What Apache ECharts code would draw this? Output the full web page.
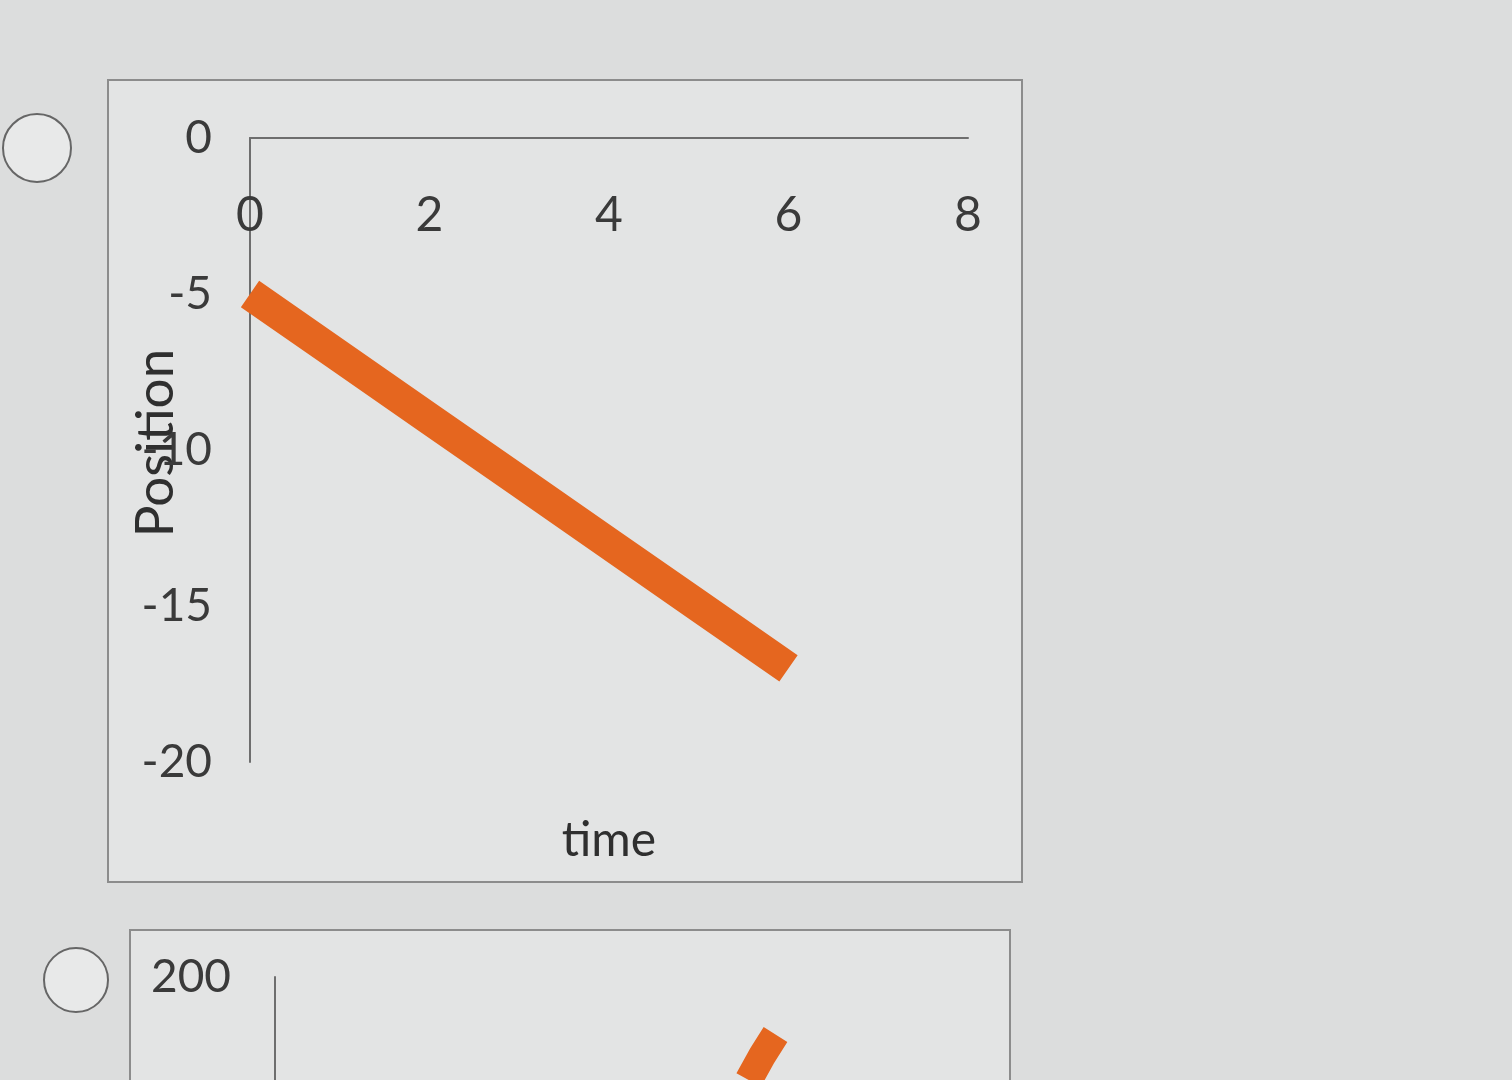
<!DOCTYPE html>
<html><head><meta charset="utf-8">
<script src="https://cdn.jsdelivr.net/npm/echarts@6/dist/echarts.min.js"></script>
<style>html,body{margin:0;padding:0;background:#dcdddd;}#c{width:1512px;height:1080px;}</style>
</head><body><div id="c"></div>
<script>
// Chart 1: Position vs time
const timeValues = [0, 1, 2, 3, 4, 5, 6];
const positionValues = [-5, -7, -9, -11, -13, -15, -17];
const xTicks = [0, 2, 4, 6, 8];
const yTicks = [0, -5, -10, -15, -20];
// Chart 2 (only its top is visible below)
const time2Values = [5.3, 5.45, 5.6];
const position2Values = [166, 174, 181];
const y2Ticks = [200];

const FONT = 'Lato';
const TXT = '#3a3a3a';
const chart = echarts.init(document.getElementById('c'), null, {renderer: 'canvas'});
chart.setOption({
  backgroundColor: '#dcdddd',
  animation: false,
  graphic: [
    {type: 'rect', shape: {x: 108, y: 80, width: 914, height: 802}, style: {fill: '#e3e4e4', stroke: '#8c8c8c', lineWidth: 2}, z: -10},
    {type: 'rect', shape: {x: 130, y: 930, width: 880, height: 200}, style: {fill: '#e3e4e4', stroke: '#8c8c8c', lineWidth: 2}, z: -10},
    {type: 'circle', shape: {cx: 37, cy: 148, r: 34}, style: {fill: '#e8e9e9', stroke: '#666', lineWidth: 2}},
    {type: 'circle', shape: {cx: 76, cy: 980, r: 32}, style: {fill: '#e8e9e9', stroke: '#666', lineWidth: 2}}
  ],
  grid: [
    {left: 250, top: 138, width: 718, height: 624},
    {left: 275, top: 977, width: 715, height: 103}
  ],
  xAxis: [
    {type: 'value', gridIndex: 0, position: 'top', min: 0, max: 8, interval: 2,
     axisLine: {show: true, onZero: false, lineStyle: {color: '#6e6e6e', width: 2}},
     axisTick: {show: false}, splitLine: {show: false},
     axisLabel: {inside: true, margin: 54, fontFamily: FONT, fontSize: 48, color: TXT,
       formatter: v => xTicks.includes(v) ? String(v) : ''}},
    {type: 'value', gridIndex: 0, position: 'bottom', min: 0, max: 8,
     name: 'time', nameLocation: 'middle', nameGap: 55,
     nameTextStyle: {fontFamily: FONT, fontSize: 48, color: '#2f2f2f'},
     axisLine: {show: false}, axisTick: {show: false}, axisLabel: {show: false}, splitLine: {show: false}},
    {type: 'value', gridIndex: 1, min: 0, max: 8, show: false}
  ],
  yAxis: [
    {type: 'value', gridIndex: 0, min: -20, max: 0, interval: 5,
     name: 'Position', nameLocation: 'middle', nameGap: 68, nameRotate: 90, nameMoveOverlap: false,
     nameTextStyle: {fontFamily: FONT, fontSize: 53, color: '#2f2f2f', padding: [0, 0, 0, 14]},
     axisLine: {show: true, onZero: false, lineStyle: {color: '#6e6e6e', width: 2}},
     axisTick: {show: false}, splitLine: {show: false},
     axisLabel: {margin: 38, fontFamily: FONT, fontSize: 46, color: TXT,
       formatter: v => yTicks.includes(v) ? String(v) : ''}},
    {type: 'value', gridIndex: 1, min: 166, max: 200, interval: 34,
     axisLine: {show: true, onZero: false, lineStyle: {color: '#6e6e6e', width: 2}},
     axisTick: {show: false}, splitLine: {show: false},
     axisLabel: {margin: 44, fontFamily: FONT, fontSize: 46, color: TXT,
       formatter: v => y2Ticks.includes(v) ? String(v) : ''}}
  ],
  series: [
    {type: 'line', xAxisIndex: 0, yAxisIndex: 0, symbol: 'none',
     data: timeValues.map((t, i) => [t, positionValues[i]]),
     lineStyle: {color: '#e5661f', width: 32, cap: 'butt', join: 'round'}},
    {type: 'line', xAxisIndex: 2, yAxisIndex: 1, symbol: 'none', clip: false,
     data: time2Values.map((t, i) => [t, position2Values[i]]),
     lineStyle: {color: '#e5661f', width: 28, cap: 'butt'}}
  ]
});
</script></body></html>
